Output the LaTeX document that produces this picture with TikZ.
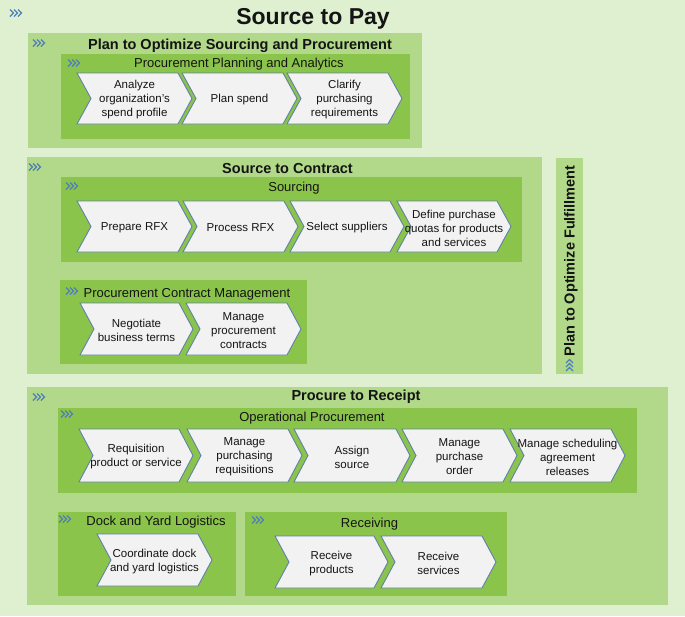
\documentclass[tikz,border=0pt]{standalone}
\usepackage{fontspec}
\setmainfont{Liberation Sans}
\definecolor{bgc}{RGB}{223,240,208}
\definecolor{midc}{RGB}{177,217,137}
\definecolor{darkc}{RGB}{139,196,74}
\definecolor{chevfill}{RGB}{242,242,242}
\definecolor{chevline}{RGB}{96,128,168}
\definecolor{iconc}{RGB}{79,126,186}
\definecolor{txtc}{RGB}{20,20,20}
\tikzset{
  chevbox/.style={fill=chevfill, draw=chevline, line width=0.9pt, line join=miter},
  chevtxt/.style={font=\fontsize{11.5}{14}\selectfont, align=center, inner sep=0pt, text=txtc},
  hdbold/.style={font=\fontsize{14.5}{17}\selectfont\bfseries, inner sep=0pt, text height=0.72em, text depth=0pt, text=txtc, yshift=-2.5pt},
  hdreg/.style={font=\fontsize{13}{15}\selectfont, inner sep=0pt, text height=0.72em, text depth=0pt, text=txtc, yshift=-2pt},
  iconln/.style={draw=iconc, line width=1.2pt},
  midbox/.style={fill=midc},
  darkbox/.style={fill=darkc},
}
\newcommand\chv[6]{%
  \path[chevbox] (#2,#4) -- (#3-14,#4) -- (#3,{(#4+#5)/2}) -- (#3-14,#5) -- (#2,#5) -- (#2+14,{(#4+#5)/2}) -- cycle;
  \node[chevtxt] (#1) at ({(#2+#3)/2},{(#4+#5)/2+1.5}) {#6};}
\newcommand\icn[3][0]{%
  \begin{scope}[shift={(#2,#3)},rotate=#1]
    \foreach \k in {0,4,8} \draw[iconln] (\k-2,-3.5) -- (\k+1.5,0) -- (\k-2,3.5);
  \end{scope}}
\begin{document}
\begin{tikzpicture}[x=1pt,y=-1pt]
\useasboundingbox (0,0) rectangle (685,616);
\fill[bgc] (0,0) rectangle (685,616);
% title
\node[font=\fontsize{23}{26}\selectfont\bfseries, inner sep=0pt, text height=0.72em, text depth=0pt, text=txtc] (stp) at (313,20.5) {Source to Pay};
\icn{12}{13}
% Plan to Optimize Sourcing and Procurement
\fill[midbox] (28,33) rectangle (422,148);
\icn{35}{43}
\node[hdbold] (pos) at (240,43) {Plan to Optimize Sourcing and Procurement};
\fill[darkbox] (61,54) rectangle (410,139);
\icn{70}{63}
\node[hdreg] (ppa) at (239,62) {Procurement Planning and Analytics};
\chv{a1}{77}{192}{73}{124}{Analyze\\organization's\\spend profile}
\chv{a2}{182}{297}{73}{124}{Plan spend}
\chv{a3}{287}{402}{73}{124}{Clarify\\purchasing\\requirements}
% Source to Contract
\fill[midbox] (27,157) rectangle (542,374);
\icn{31}{167}
\node[hdbold] (stc) at (287.5,167) {Source to Contract};
\fill[darkbox] (61,177) rectangle (522,262);
\icn{68}{186}
\node[hdreg] (src) at (294,186) {Sourcing};
\chv{b1}{77}{192}{201}{252}{Prepare RFX}
\chv{b2}{183}{298}{201}{252}{Process RFX}
\chv{b3}{290}{404}{201}{252}{Select suppliers}
\chv{b4}{397}{511}{201}{252}{Define purchase\\quotas for products\\and services}
\fill[darkbox] (60,280) rectangle (307,364);
\icn{68}{291}
\node[hdreg] (pcm) at (187,292) {Procurement Contract Management};
\chv{c1}{80}{193}{303}{355}{Negotiate\\business terms}
\chv{c2}{186}{301}{303}{355}{Manage\\procurement\\contracts}
% Plan to Optimize Fulfillment
\fill[midbox] (556,158) rectangle (583,374);
\node[font=\fontsize{14.5}{17}\selectfont\bfseries, inner sep=0pt, text height=0.72em, text depth=0pt, text=txtc, rotate=90] (pof) at (571,261) {Plan to Optimize Fulfillment};
\icn[90]{569.5}{369}
% Procure to Receipt
\fill[midbox] (27,387) rectangle (668,605);
\icn{35}{397}
\node[hdbold] (ptr) at (356,394) {Procure to Receipt};
\fill[darkbox] (58,408) rectangle (637,493);
\icn{63}{414}
\node[hdreg] (opp) at (312,416) {Operational Procurement};
\chv{d1}{79}{193}{429}{482}{Requisition\\product or service}
\chv{d2}{187}{302}{429}{482}{Manage\\purchasing\\requisitions}
\chv{d3}{294}{410}{429}{482}{Assign\\source}
\chv{d4}{402}{517}{429}{482}{Manage\\purchase\\order}
\chv{d5}{510}{625}{429}{482}{Manage scheduling\\agreement\\releases}
\fill[darkbox] (58,512) rectangle (236,596);
\icn{61}{519}
\node[hdreg] (dyl) at (156,520) {Dock and Yard Logistics};
\chv{e1}{97}{212}{534}{586}{Coordinate dock\\and yard logistics}
\fill[darkbox] (245,512) rectangle (507,596);
\icn{254}{520}
\node[hdreg] (rcv) at (369.5,522) {Receiving};
\chv{f1}{275}{388}{536}{588}{Receive\\products}
\chv{f2}{381}{496}{536}{588}{Receive\\services}
\end{tikzpicture}
\end{document}
